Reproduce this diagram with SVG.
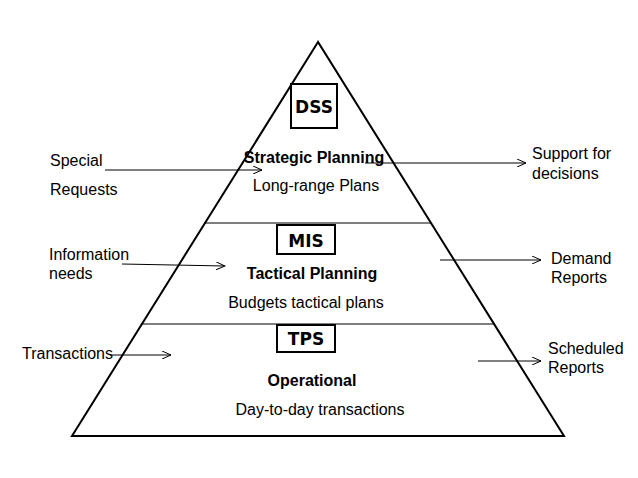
<svg xmlns="http://www.w3.org/2000/svg" width="638" height="478" viewBox="0 0 638 478">
<style>
text{font-family:"Liberation Sans",Arial,sans-serif;font-size:16px;fill:#000}
.b{font-weight:bold}
.t{font-family:"DejaVu Sans",sans-serif;font-size:17px;font-weight:bold}
.box{fill:#fff;stroke:#000;stroke-width:2}
.c{stroke:#000;stroke-width:1;fill:none;marker-end:url(#a)}
</style>
<defs><marker id="a" markerWidth="10" markerHeight="8" refX="9" refY="4" orient="auto" markerUnits="userSpaceOnUse"><path d="M0,0 L9,4 L0,8" fill="none" stroke="#000"/></marker></defs>
<g id="pyramid">
<polygon points="318,42 72,436 564,436" fill="#fff" stroke="#000" stroke-width="2"/>
<line x1="204" y1="223" x2="431" y2="223" stroke="#000"/>
<line x1="141" y1="324" x2="494" y2="324" stroke="#000"/>
</g>
<g id="dss"><rect class="box" x="291" y="84" width="46" height="44"/><text class="t" x="314" y="113" text-anchor="middle">DSS</text></g>
<g id="strategic"><text class="b" x="314" y="163" text-anchor="middle">Strategic Planning</text><text x="316" y="191" text-anchor="middle">Long-range Plans</text></g>
<g id="mis"><rect class="box" x="277" y="225" width="58" height="29"/><text class="t" x="306" y="247" text-anchor="middle">MIS</text></g>
<g id="tactical"><text class="b" x="312" y="279" text-anchor="middle">Tactical Planning</text><text x="306" y="308" text-anchor="middle">Budgets tactical plans</text></g>
<g id="tps"><rect class="box" x="277" y="325" width="58" height="27"/><text class="t" x="306" y="345" text-anchor="middle">TPS</text></g>
<g id="operational"><text class="b" x="312" y="386" text-anchor="middle">Operational</text><text x="320" y="415" text-anchor="middle">Day-to-day transactions</text></g>
<g id="labels">
<text x="50" y="166">Special</text><text x="50" y="195">Requests</text>
<text x="532" y="159">Support for</text><text x="532" y="179">decisions</text>
<text x="49" y="260">Information</text><text x="49" y="279">needs</text>
<text x="551" y="264">Demand</text><text x="551" y="283">Reports</text>
<text x="22" y="359">Transactions</text>
<text x="548" y="354">Scheduled</text><text x="548" y="373">Reports</text>
</g>
<g id="connectors">
<line class="c" x1="105" y1="170" x2="262" y2="170"/>
<line class="c" x1="365" y1="163" x2="526" y2="163"/>
<line class="c" x1="122" y1="264" x2="225" y2="266"/>
<line class="c" x1="440" y1="260" x2="541" y2="260"/>
<line class="c" x1="110" y1="355" x2="171" y2="355"/>
<line class="c" x1="478" y1="361" x2="541" y2="361"/>
</g>
</svg>
